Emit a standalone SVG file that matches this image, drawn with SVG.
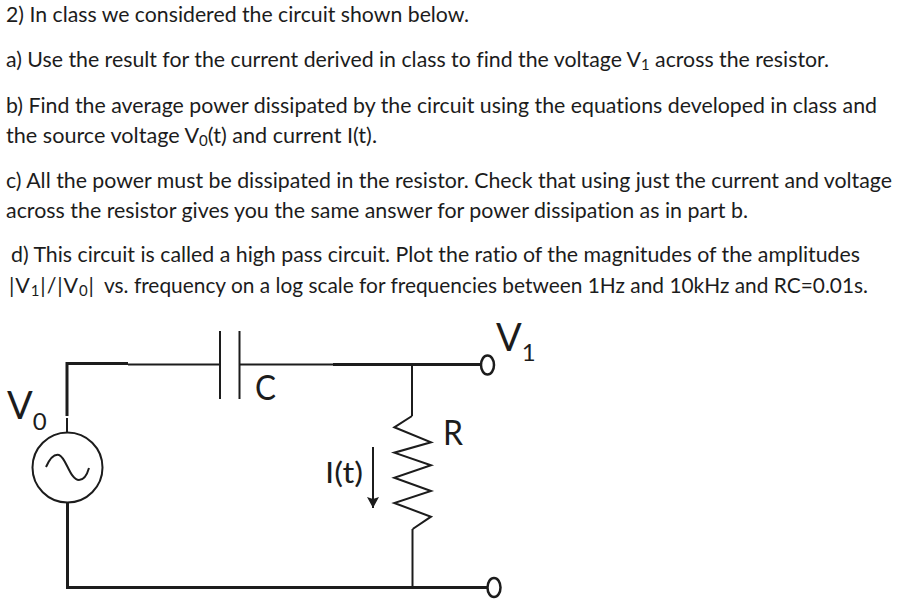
<svg xmlns="http://www.w3.org/2000/svg" width="900" height="604" viewBox="0 0 900 604">
<style>
text{font-family:Lato,"Open Sans","DejaVu Sans",sans-serif;fill:#1c1c1c;font-variant-ligatures:none}
.q{font-size:21.500px}
.lbl{font-size:35px}
.v{font-size:38px}
.sub{font-size:24px}
.s{font-size:15px}
.w{fill:none;stroke:#1c1c1c;stroke-width:2;stroke-linecap:butt}
.t{fill:none;stroke:#1c1c1c;stroke-width:3}
.e{fill:#fff;stroke:#1c1c1c;stroke-width:2.500}
</style>
<defs><marker id="ah" markerWidth="12" markerHeight="12" refX="11" refY="6" orient="auto" markerUnits="userSpaceOnUse"><path d="M0 0L11 6L0 12L2 6Z" fill="#1c1c1c"/></marker></defs>
<rect width="900" height="604" fill="#fff"/>
<g id="question">
<text class="q" x="6" y="22" textLength="463" lengthAdjust="spacingAndGlyphs">2) In class we considered the circuit shown below.</text>
<text class="q" x="6" y="67" textLength="823" lengthAdjust="spacingAndGlyphs">a) Use the result for the current derived in class to find the voltage V<tspan class="s" dy="3">1</tspan><tspan dy="-3"> across the resistor.</tspan></text>
<text class="q" x="6" y="113" textLength="871" lengthAdjust="spacingAndGlyphs">b) Find the average power dissipated by the circuit using the equations developed in class and</text>
<text class="q" x="6" y="143" textLength="371" lengthAdjust="spacingAndGlyphs">the source voltage V<tspan class="s" dy="3">0</tspan><tspan dy="-3">(t) and current I(t).</tspan></text>
<text class="q" x="6" y="188" textLength="886" lengthAdjust="spacingAndGlyphs">c) All the power must be dissipated in the resistor. Check that using just the current and voltage</text>
<text class="q" x="6" y="218" textLength="742" lengthAdjust="spacingAndGlyphs">across the resistor gives you the same answer for power dissipation as in part b.</text>
<text class="q" x="11" y="262" textLength="849" lengthAdjust="spacingAndGlyphs">d) This circuit is called a high pass circuit. Plot the ratio of the magnitudes of the amplitudes</text>
<text class="q" x="9" y="293" textLength="85" lengthAdjust="spacing">|V<tspan class="s" dy="3">1</tspan><tspan dy="-3">|/|V</tspan><tspan class="s" dy="3">0</tspan><tspan dy="-3">|</tspan></text>
<text class="q" x="104" y="293" textLength="764" lengthAdjust="spacingAndGlyphs">vs. frequency on a log scale for frequencies between 1Hz and 10kHz and RC=0.01s.</text>
</g>
<g id="connectors">
<path class="t" d="M67 416V363.500H128"/>
<path class="w" d="M67 418V433"/>
<path class="w" d="M128 364.500H220"/>
<path class="w" d="M240 364.500H333"/>
<path class="t" d="M333 364.500H481"/>
<path class="t" d="M67.500 502V587.500H488"/>
<path class="w" d="M412 364.500V416"/>
<path class="w" d="M412.500 529V587"/>
</g>
<g id="source">
<circle class="w" cx="67.500" cy="467.500" r="35" fill="#fff"/>
<path class="w" stroke-linecap="round" d="M46 467C50 458 55 454 59 455C66 457 70 480 79 480C84 480 87 475 89 468"/>
<text class="v" x="7" y="419">V<tspan class="sub" dy="11">0</tspan></text>
</g>
<g id="capacitor">
<path class="w" d="M220 331V399M239.500 331V399"/>
<text class="lbl" x="255" y="400" textLength="21" lengthAdjust="spacingAndGlyphs">C</text>
</g>
<g id="resistor">
<path class="w" d="M412 416L394.300 427.300L431 442.300L394.300 452.700L431 465.300L394.300 477.700L431 491L394.300 503L431 516.700L412.700 529"/>
<text class="lbl" x="443" y="445" textLength="20" lengthAdjust="spacingAndGlyphs">R</text>
</g>
<g id="current">
<text x="325" y="483" style="font-size:29px" textLength="38" lengthAdjust="spacingAndGlyphs">I(t)</text>
<line class="w" x1="373" y1="447" x2="373" y2="508" marker-end="url(#ah)"/>
</g>
<g id="terminal-v1">
<ellipse class="e" cx="487.500" cy="365" rx="6.500" ry="9.500"/>
<text class="v" x="496" y="351">V<tspan class="sub" dy="10">1</tspan></text>
</g>
<g id="terminal-ground">
<ellipse class="e" cx="494" cy="587.500" rx="6.500" ry="9.500"/>
</g>
</svg>
